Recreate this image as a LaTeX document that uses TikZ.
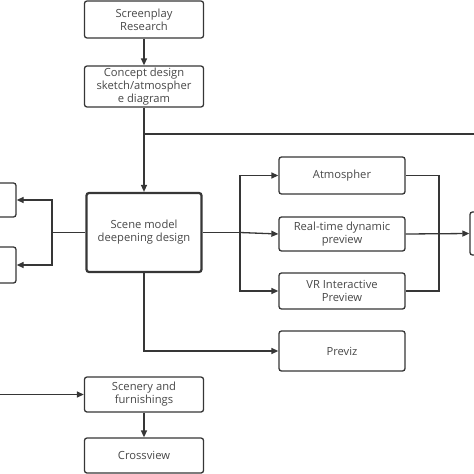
\documentclass[tikz,border=0pt]{standalone}
\usepackage{fontspec}
\setmainfont{Open Sans}
\usetikzlibrary{arrows.meta}
\definecolor{linegray}{HTML}{363636}
\definecolor{textgray}{HTML}{484848}
\begin{document}
\begin{tikzpicture}[x=1pt,y=-1pt,
  box/.style={draw=linegray,line width=1.3pt,rounded corners=2.5pt,fill=white,
    rectangle,align=center,text=textgray,font=\fontsize{11.2}{13}\selectfont,inner sep=1pt},
  link/.style={draw=linegray,line width=1.3pt},
  arr/.style={link,-{Triangle[length=7pt,width=6pt]}}]
\useasboundingbox (0,0) rectangle (474,474);
\clip (0,0) rectangle (474,474);
% Boxes
\node[box,minimum width=119pt,minimum height=37pt] (scr) at (144,19.5) {Screenplay\\Research};
\node[box,minimum width=119pt,minimum height=41pt] (con) at (144,86.5) {Concept design\\sketch/atmospher\\e diagram};
\node[box,line width=2.2pt,minimum width=115pt,minimum height=79pt] (scene) at (144,232.5) {Scene model\\deepening design};
\node[box,minimum width=76pt,minimum height=34pt] (lt1) at (-22,200) {};
\node[box,minimum width=76pt,minimum height=36pt] (lt2) at (-22,265) {};
\node[box,minimum width=126pt,minimum height=37pt] (atm) at (342,175.5) {Atmospher};
\node[box,minimum width=126pt,minimum height=34pt] (rtp) at (342,234) {Real-time dynamic\\preview};
\node[box,minimum width=126pt,minimum height=36pt] (vr) at (342,291) {VR Interactive\\Preview};
\node[box,minimum width=126pt,minimum height=40pt] (prv) at (342,351) {Previz};
\node[box,minimum width=70pt,minimum height=43pt] (rt) at (505,233.5) {};
\node[box,minimum width=119pt,minimum height=35pt] (sce) at (144,394.5) {Scenery and\\furnishings};
\node[box,minimum width=119pt,minimum height=35pt] (crs) at (144,455.5) {Crossview};

% Junctions
\coordinate (lj) at (52,232.5);
\coordinate (rj) at (240,232.5);
\coordinate (rk) at (439,232.5);
\coordinate (top) at (144,134);
\coordinate (offr) at (480,134);
\coordinate (offl) at (-5,394.5);

% Arrows
\draw[arr] (scr) -- (con);
\draw[arr] (con) -- (scene);
\draw[link] (top) -- (offr);
\draw[link] (scene.west) -- (lj);
\draw[arr] (lj) |- (lt1.east);
\draw[arr] (lj) |- (lt2.east);
\draw[link] (scene.east) -- (rj);
\draw[arr] (rj) |- (atm.west);
\draw[arr] (rj) -- (rtp.west);
\draw[arr] (rj) |- (vr.west);
\draw[arr] (scene.south) |- (prv.west);
\draw[link] (atm.east) -| (rk) |- (vr.east);
\draw[arr] (rtp.east) -- (rt.west);
\draw[arr] (offl) -- (sce.west);
\draw[arr] (sce) -- (crs);
\end{tikzpicture}
\end{document}
